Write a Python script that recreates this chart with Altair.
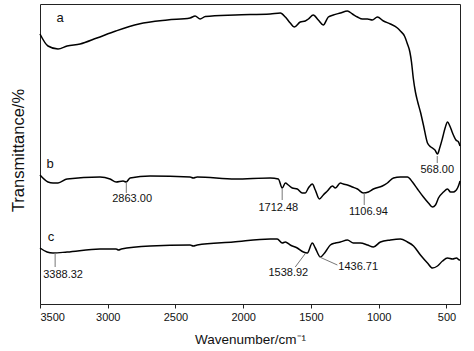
import altair as alt
import pandas as pd

# ---- spectra (wavenumber cm^-1, transmittance in arbitrary offset units) ----
wn_a = [3500, 3441, 3367, 3300, 3204, 3080, 2940, 2770, 2560, 2392, 2355, 2318, 2280, 2059,
        1800, 1726, 1689, 1653, 1623, 1579, 1542, 1519, 1483, 1446, 1409, 1372, 1335, 1283,
        1231, 1194, 1157, 1120, 1083, 1047, 1010, 965, 914, 862, 840, 810, 788, 770, 758,
        745, 729, 712, 692, 670, 640, 615, 603, 585, 566, 550, 529, 510, 492, 475, 455,
        430, 411, 400]
t_a = [270, 258, 255, 258, 260, 266, 273, 280, 284, 286, 288, 285, 287.5, 289,
       290, 291, 287, 281, 277, 282, 283, 285, 289, 284, 279, 287, 289, 291,
       293, 290, 287, 285, 285, 284, 287, 283, 280, 276, 273, 268, 260, 252, 242,
       226, 212, 202, 192, 179, 161, 157, 156, 154, 150, 156, 166, 176, 182, 178, 171,
       164, 162, 158]

wn_b = [3500, 3441, 3404, 3367, 3300, 3057, 2983, 2938, 2887, 2864, 2835, 2687, 2392, 2369,
        2340, 2059, 1800, 1741, 1712, 1689, 1667, 1638, 1601, 1564, 1542, 1519, 1490, 1468,
        1438, 1409, 1379, 1342, 1320, 1283, 1261, 1231, 1194, 1157, 1113, 1076, 1039, 973,
        936, 891, 840, 788, 751, 714, 670, 633, 603, 581, 559, 522, 492, 470, 448, 418,
        404, 400]
t_b = [129, 122, 121, 121, 125, 127, 125, 122, 123, 122, 126, 128, 127, 126,
       127, 125, 126, 125, 116, 121, 119, 116, 115, 111, 111, 116, 120, 114,
       105, 109, 113, 118, 116, 121, 120, 119, 117, 115, 111, 112, 115, 118,
       121, 126, 127, 127, 122, 115, 107, 101, 97, 99, 106, 112, 115, 112, 112, 116,
       121, 123]

wn_c = [3500, 3448, 3404, 3300, 3057, 2938, 2920, 2900, 2687, 2392, 2369, 2340, 2074, 1800,
        1749, 1712, 1689, 1653, 1601, 1556, 1527, 1490, 1468, 1431, 1394, 1357, 1320, 1283,
        1231, 1187, 1135, 1083, 1039, 987, 914, 840, 788, 743, 692, 640, 603, 566, 529,
        492, 455, 426, 404, 400]
t_c = [56, 52, 51, 52, 55, 55, 54, 55, 58, 59, 58, 59, 62, 65,
       65, 61, 62, 59, 56, 52, 51, 61, 56, 47, 52, 59, 61, 62,
       64, 61, 61, 59, 57, 62, 64, 65, 62, 58, 49, 41, 36, 38, 43,
       46, 45, 46, 44, 44]

# ---- curve letters ----
letters = ["a", "b", "c"]
letter_wn = [3352, 3426, 3419]
letter_t = [286, 140, 67]

# ---- peak annotations: short vertical marker + label ----
peak_text = ["568.00", "2863.00", "1712.48", "1106.94", "3388.32"]
peak_wn = [568, 2863, 1712.48, 1106.94, 3388.32]
peak_t1 = [148, 122, 116, 111, 51]
peak_t2 = [141, 111, 104, 99, 37]
peak_label_wn = [568, 2820, 1741, 1076, 3330]
peak_label_t = [134, 105, 96, 92, 29]

# ---- slanted leader annotations ----
lead_text = ["1538.92", "1436.71"]
lead_wn1 = [1538.92, 1436.71]
lead_t1 = [51, 47]
lead_wn2 = [1616, 1305]
lead_t2 = [37, 39]
lead_label_wn = [1667, 1298]
lead_label_t = [31, 37]
lead_align = ["center", "left"]

FONT = "Arial, Liberation Sans, Helvetica, sans-serif"

spec = pd.concat([
    pd.DataFrame({"series": "a", "wn": wn_a, "t": t_a}),
    pd.DataFrame({"series": "b", "wn": wn_b, "t": t_b}),
    pd.DataFrame({"series": "c", "wn": wn_c, "t": t_c}),
], ignore_index=True)

xscale = alt.Scale(domain=[400, 3500], reverse=True, nice=False, zero=False)
yscale = alt.Scale(domain=[0, 300], nice=False, zero=False)

tick_vals = list(range(3500, 499, -250))

lines = alt.Chart(spec).mark_line(color="black", strokeWidth=1.5, interpolate="monotone").encode(
    x=alt.X("wn:Q", scale=xscale,
            axis=alt.Axis(title="Wavenumber/cm⁻¹", values=tick_vals, format="d",
                          labelExpr="datum.value % 500 === 0 ? datum.label : ''",
                          grid=False, tickSize=4, labelPadding=3, titlePadding=10,
                          labelFontSize=11, titleFontSize=13.5, titleFontWeight="normal",
                          labelColor="#111", titleColor="#111", tickColor="#222",
                          domainColor="#222", labelFont=FONT, titleFont=FONT)),
    y=alt.Y("t:Q", scale=yscale,
            axis=alt.Axis(title="Transmittance/%", labels=False, ticks=False, domain=False,
                          grid=False, titleFontSize=16.5, titleFontWeight="normal",
                          titleColor="#111", titleFont=FONT, titlePadding=14, titleY=146)),
    detail="series:N",
    order=alt.Order("wn:Q", sort="descending"),
)

peaks = pd.DataFrame({"text": peak_text, "wn": peak_wn, "t1": peak_t1, "t2": peak_t2,
                      "lwn": peak_label_wn, "lt": peak_label_t})
peak_rules = alt.Chart(peaks).mark_rule(color="#777", strokeWidth=1).encode(
    x=alt.X("wn:Q", scale=xscale), y=alt.Y("t1:Q", scale=yscale), y2="t2:Q")
peak_labels = alt.Chart(peaks).mark_text(font=FONT, fontSize=11, color="#111",
                                         align="center", baseline="middle").encode(
    x=alt.X("lwn:Q", scale=xscale), y=alt.Y("lt:Q", scale=yscale), text="text:N")

leads = pd.DataFrame({"text": lead_text, "wn1": lead_wn1, "t1": lead_t1, "wn2": lead_wn2,
                      "t2": lead_t2, "lwn": lead_label_wn, "lt": lead_label_t,
                      "align": lead_align})
lead_rules = alt.Chart(leads).mark_rule(color="#777", strokeWidth=1).encode(
    x=alt.X("wn1:Q", scale=xscale), x2="wn2:Q",
    y=alt.Y("t1:Q", scale=yscale), y2="t2:Q")
lead_c = alt.Chart(leads[leads["align"] == "center"]).mark_text(
    font=FONT, fontSize=11, color="#111", align="center", baseline="middle").encode(
    x=alt.X("lwn:Q", scale=xscale), y=alt.Y("lt:Q", scale=yscale), text="text:N")
lead_l = alt.Chart(leads[leads["align"] == "left"]).mark_text(
    font=FONT, fontSize=11, color="#111", align="left", baseline="middle").encode(
    x=alt.X("lwn:Q", scale=xscale), y=alt.Y("lt:Q", scale=yscale), text="text:N")

lets = pd.DataFrame({"text": letters, "wn": letter_wn, "t": letter_t})
letter_marks = alt.Chart(lets).mark_text(font=FONT, fontSize=13, color="#111",
                                         align="center", baseline="middle").encode(
    x=alt.X("wn:Q", scale=xscale), y=alt.Y("t:Q", scale=yscale), text="text:N")

chart = alt.layer(lines, peak_rules, peak_labels, lead_rules, lead_c, lead_l, letter_marks).properties(
    width=420, height=300,
    autosize=alt.AutoSizeParams(type="none"),
    padding={"left": 40, "top": 4, "right": 14, "bottom": 47},
    background="white",
).configure_view(stroke="#222", strokeWidth=1)

chart.save("out.html", embed_options={"renderer": "svg", "actions": False})
